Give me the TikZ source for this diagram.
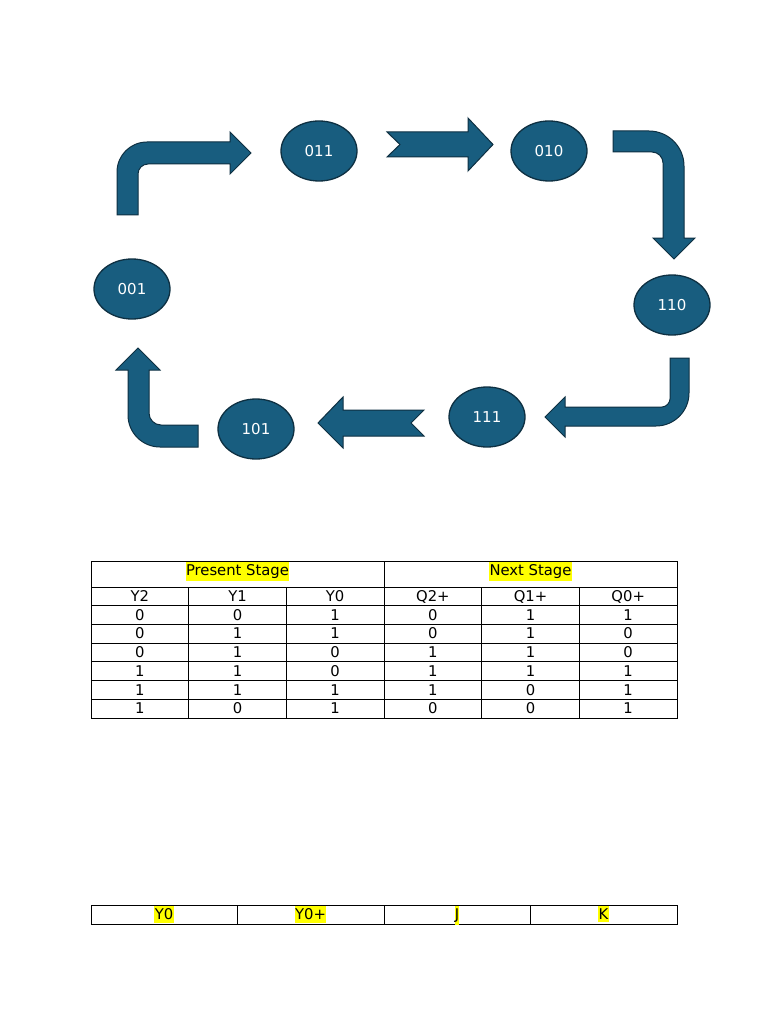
\documentclass[tikz,border=0pt]{standalone}
\usepackage{fontspec}
\setmainfont{DejaVu Sans}
\usetikzlibrary{shapes.geometric}
\definecolor{stfill}{RGB}{24,93,127}
\definecolor{stline}{RGB}{14,48,66}
\definecolor{hl}{RGB}{255,255,0}
\begin{document}
\begin{tikzpicture}[x=1pt,y=-1pt,
  state/.style={ellipse,draw=stline,line width=1.3pt,fill=stfill,minimum width=76pt,minimum height=60pt,inner sep=0pt,text=white,font=\fontsize{15}{17}\selectfont},
  blockarrow/.style={fill=stfill,draw=stline,line width=1pt,line join=miter},
  grid/.style={draw=black,line width=0.8pt},
  cell/.style={anchor=base,inner sep=0pt,font=\fontsize{14.8}{17}\selectfont},
  hlcell/.style={anchor=base,inner xsep=0.3pt,inner ysep=2.8pt,fill=hl,font=\fontsize{14.8}{17}\selectfont}]
\useasboundingbox (0,0) rectangle (768,1024);
\fill[white] (0,0) rectangle (768,1024);
% states
\node[state] (s011) at (319,151) {011};
\node[state] (s010) at (549,151) {010};
\node[state] (s110) at (672,305) {110};
\node[state] (s111) at (487,417) {111};
\node[state] (s101) at (256,429) {101};
\node[state] (s001) at (132,289) {001};
% block arrows
\draw[blockarrow] (117,215) -- (117,172) .. controls (117,155.4) and (130.4,142) .. (147,142) -- (230,142) -- (230,132) -- (251,153) -- (230,174) -- (230,164) -- (148,164) .. controls (142.5,164) and (138,168.5) .. (138,174) -- (138,215) -- cycle;
\draw[blockarrow] (387,132) -- (468,132) -- (468,118) -- (493,144.5) -- (468,171) -- (468,157) -- (387,157) -- (400,144.5) -- cycle;
\draw[blockarrow] (613,131) -- (649,131) .. controls (668.3,131) and (684,146.7) .. (684,166) -- (684,238) -- (695,238) -- (674,259) -- (653,238) -- (663,238) -- (663,163) .. controls (663,156.9) and (658.1,152) .. (652,152) -- (613,152) -- cycle;
\draw[blockarrow] (689,358) -- (689,393) .. controls (689,411.2) and (674.2,426) .. (656,426) -- (565,426) -- (565,437) -- (545,417) -- (565,397) -- (565,407) -- (662,407) .. controls (666.4,407) and (670,402.6) .. (670,399) -- (670,358) -- cycle;
\draw[blockarrow] (424,410) -- (343,410) -- (343,397) -- (318,423) -- (343,448) -- (343,436) -- (424,436) -- (411,423) -- cycle;
\draw[blockarrow] (198,447) -- (160,447) .. controls (142.3,447) and (128,432.7) .. (128,415) -- (128,370) -- (116,370) -- (138,348) -- (160,370) -- (149,370) -- (149,413) .. controls (149,419.6) and (154.4,425) .. (161,425) -- (198,425) -- cycle;
% table 1 grid
\draw[grid] (91,561) rectangle (677,717.9);
\draw[grid] (384,561) -- (384,717.9);
\foreach \k in {0,...,6}{\draw[grid] (91,587+18.7*\k) -- (677,587+18.7*\k);}
\foreach \x in {188,286,481,579}{\draw[grid] (\x,587) -- (\x,717.9);}
% table 1 headers
\node[hlcell] (hp) at (237.5,575.5) {Present Stage};
\node[hlcell] (hn) at (530.5,575.5) {Next Stage};
\foreach \t [count=\c] in {Y2,Y1,Y0,Q2+,Q1+,Q0+}{
  \node[cell] (h\c) at ({91+97.67*(\c-0.5)},601.5) {\t};}
\foreach \row [count=\r] in {{0,0,1,0,1,1},{0,1,1,0,1,0},{0,1,0,1,1,0},{1,1,0,1,1,1},{1,1,1,1,0,1},{1,0,1,0,0,1}}{
  \foreach \v [count=\c] in \row {
    \node[cell] (c\r-\c) at ({91+97.67*(\c-0.5)},{601.5+18.7*\r}) {\v};}}
% table 2
\draw[grid] (91,905) rectangle (677,924);
\foreach \x in {237.5,384,530.5}{\draw[grid] (\x,905) -- (\x,924);}
\node[hlcell] (t1) at (164,919.5) {Y0};
\node[hlcell] (t2) at (310.5,919.5) {Y0+};
\node[hlcell] (t3) at (457,919.5) {J};
\node[hlcell] (t4) at (603.5,919.5) {K};
\end{tikzpicture}
\end{document}
